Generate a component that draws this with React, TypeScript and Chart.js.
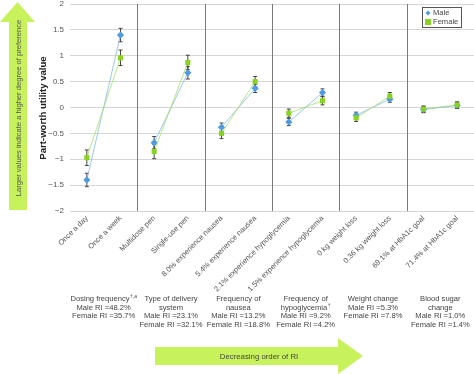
import React, { useEffect, useRef } from "react";
import { Chart, registerables } from "chart.js";

Chart.register(...registerables);

const categories = [
  "Once a day",
  "Once a week",
  "Multidose pen",
  "Single-use pen",
  "8.0% experience nausea",
  "5.4% experience nausea",
  "2.1% experience hypoglycemia",
  "1.5% experience hypoglycemia",
  "0 kg weight loss",
  "0.36 kg weight loss",
  "69.1% at HbA1c goal",
  "71.4% at HbA1c goal",
];

const maleValues = [-1.4, 1.4, -0.68, 0.67, -0.38, 0.37, -0.28, 0.29, -0.15, 0.16, -0.04, 0.04];
const femaleValues = [-0.97, 0.96, -0.85, 0.87, -0.5, 0.5, -0.11, 0.13, -0.2, 0.22, -0.03, 0.05];
const maleErrors = [0.13, 0.13, 0.12, 0.12, 0.08, 0.08, 0.07, 0.07, 0.06, 0.06, 0.06, 0.06];
const femaleErrors = [0.15, 0.15, 0.14, 0.14, 0.1, 0.1, 0.08, 0.08, 0.07, 0.07, 0.06, 0.06];

const groupTitles = [
  ["Dosing frequency^†,a"],
  ["Type of delivery", "system"],
  ["Frequency of", "nausea"],
  ["Frequency of", "hypoglycemia^†"],
  ["Weight change"],
  ["Blood sugar", "change"],
];
const maleRI = ["48.2%", "23.1%", "13.2%", "9.2%", "5.3%", "1.0%"];
const femaleRI = ["35.7%", "32.1%", "18.8%", "4.2%", "7.8%", "1.4%"];

const yTicks = [-2, -1.5, -1, -0.5, 0, 0.5, 1, 1.5, 2];

const FONT = '"Liberation Sans", Arial, sans-serif';
const MALE = "#4f9be0";
const FEMALE = "#86d41c";
const ARROW = "#c8f25c";

const overlayPlugin = {
  id: "overlay",
  beforeDatasetsDraw(chart: any) {
    const { ctx, chartArea, scales } = chart;
    const x = scales.x;
    const y = scales.y;
    ctx.save();
    ctx.strokeStyle = "#7a7a7a";
    ctx.lineWidth = 1;
    for (let g = 1; g < groupTitles.length; g++) {
      const px = Math.round((x.getPixelForValue(2 * g - 1) + x.getPixelForValue(2 * g)) / 2) + 0.5;
      ctx.beginPath();
      ctx.moveTo(px, chartArea.top);
      ctx.lineTo(px, chartArea.bottom);
      ctx.stroke();
    }
    ctx.strokeStyle = "#333";
    ctx.lineWidth = 0.9;
    const drawErr = (vals: number[], errs: number[]) => {
      vals.forEach((v, i) => {
        const px = x.getPixelForValue(i);
        const top = y.getPixelForValue(v + errs[i]);
        const bot = y.getPixelForValue(v - errs[i]);
        ctx.beginPath();
        ctx.moveTo(px, top);
        ctx.lineTo(px, bot);
        ctx.moveTo(px - 2, top);
        ctx.lineTo(px + 2, top);
        ctx.moveTo(px - 2, bot);
        ctx.lineTo(px + 2, bot);
        ctx.stroke();
      });
    };
    drawErr(maleValues, maleErrors);
    drawErr(femaleValues, femaleErrors);
    ctx.restore();
  },
  afterDraw(chart: any) {
    const { ctx, chartArea, scales } = chart;
    const x = scales.x;
    ctx.save();
    ctx.fillStyle = "#444";
    ctx.textBaseline = "middle";
    const fs = 7.6;
    const lh = 8.7;
    groupTitles.forEach((title, g) => {
      const cx = (x.getPixelForValue(2 * g) + x.getPixelForValue(2 * g + 1)) / 2;
      const lines = [...title, "Male RI =" + maleRI[g], "Female RI =" + femaleRI[g]];
      lines.forEach((line, li) => {
        const ly = 299 + li * lh;
        const [main, sup] = line.split("^");
        ctx.font = `${fs}px ${FONT}`;
        const wMain = ctx.measureText(main).width;
        let wSup = 0;
        if (sup) {
          ctx.font = `${fs * 0.65}px ${FONT}`;
          wSup = ctx.measureText(sup).width + 0.5;
        }
        const startX = cx - (wMain + wSup) / 2;
        ctx.textAlign = "left";
        ctx.font = `${fs}px ${FONT}`;
        ctx.fillText(main, startX, ly);
        if (sup) {
          ctx.font = `${fs * 0.65}px ${FONT}`;
          ctx.fillText(sup, startX + wMain + 0.5, ly - 2.5);
        }
      });
    });
    const lx = chartArea.right - 52;
    const ly = chartArea.top + 3;
    ctx.strokeStyle = "#555";
    ctx.lineWidth = 1;
    ctx.fillStyle = "#fff";
    ctx.fillRect(lx + 0.5, ly + 0.5, 39, 20);
    ctx.strokeRect(lx + 0.5, ly + 0.5, 39, 20);
    ctx.fillStyle = MALE;
    ctx.beginPath();
    const mx = lx + 6, my = ly + 6;
    ctx.moveTo(mx, my - 2.5);
    ctx.lineTo(mx + 2.5, my);
    ctx.lineTo(mx, my + 2.5);
    ctx.lineTo(mx - 2.5, my);
    ctx.closePath();
    ctx.fill();
    ctx.fillStyle = FEMALE;
    ctx.fillRect(mx - 3, ly + 15 - 3, 6, 6);
    ctx.fillStyle = "#444";
    ctx.font = `7.6px ${FONT}`;
    ctx.textAlign = "left";
    ctx.textBaseline = "middle";
    ctx.fillText("Male", lx + 11, my);
    ctx.fillText("Female", lx + 11, ly + 15);
    ctx.restore();
  },
};

export default function App() {
  const canvasRef = useRef<HTMLCanvasElement | null>(null);

  useEffect(() => {
    document.body.style.margin = "0";
    const canvas = canvasRef.current;
    if (!canvas) return;
    const segColor = (c: string) => (ctx: any) => (ctx.p0DataIndex % 2 === 1 ? "rgba(0,0,0,0)" : c);
    const chart = new Chart(canvas, {
      type: "line",
      data: {
        labels: categories,
        datasets: [
          {
            label: "Female",
            data: femaleValues,
            borderColor: "#9ee05a",
            borderWidth: 0.8,
            pointStyle: "rect",
            pointRadius: 3.6,
            pointBackgroundColor: FEMALE,
            pointBorderColor: FEMALE,
            pointBorderWidth: 0,
            segment: { borderColor: segColor("#a6e06a") },
          },
          {
            label: "Male",
            data: maleValues,
            borderColor: "#7ab6ea",
            borderWidth: 0.8,
            pointStyle: "rectRot",
            pointRadius: 3.6,
            pointBackgroundColor: MALE,
            pointBorderColor: MALE,
            pointBorderWidth: 0,
            segment: { borderColor: segColor("#80b8ea") },
          },
        ],
      },
      options: {
        responsive: false,
        animation: false,
        layout: { autoPadding: false, padding: { top: 4, right: 0, left: 0, bottom: 0 } },
        plugins: { legend: { display: false }, tooltip: { enabled: false } },
        scales: {
          x: {
            type: "category",
            offset: true,
            grid: { display: false, drawTicks: false },
            border: { display: false },
            ticks: {
              autoSkip: false,
              minRotation: 45,
              maxRotation: 45,
              padding: 3,
              color: "#555",
              font: { family: FONT, size: 7.5 },
            },
            afterFit: (s: any) => {
              s.height = 163;
              s.paddingLeft = 0;
              s.paddingRight = 0;
            },
          },
          y: {
            min: -2,
            max: 2,
            afterBuildTicks: (s: any) => {
              s.ticks = yTicks.map((v) => ({ value: v }));
            },
            grid: { color: "#d6d6d6", lineWidth: 1, drawTicks: false },
            border: { display: false },
            ticks: {
              padding: 6,
              color: "#555",
              font: { family: FONT, size: 8 },
              callback: (v: any) => (Number(v) < 0 ? "\u2212" + String(Math.abs(Number(v))) : String(v)),
            },
            afterFit: (s: any) => {
              s.width = 70;
              s.paddingTop = 0;
              s.paddingBottom = 0;
            },
          },
        },
      },
      plugins: [overlayPlugin],
    });
    return () => chart.destroy();
  }, []);

  return (
    <div style={{ position: "fixed", left: 0, top: 0, width: 474, height: 374, background: "#fff", overflow: "hidden", fontFamily: FONT }}>
      <canvas ref={canvasRef} width={474} height={374} style={{ position: "absolute", left: 0, top: 0 }} />
      <svg width={474} height={374} style={{ position: "absolute", left: 0, top: 0, pointerEvents: "none" }}>
        <polygon points="17.5,2 35,22 27,22 27,210 9,210 9,22 0,22" fill={ARROW} />
        <polygon points="155,347 338,347 338,338 363,356 338,374 338,365 155,365" fill={ARROW} />
      </svg>
      <div
        style={{
          position: "absolute",
          left: 18,
          top: 108,
          transform: "translate(-50%, -50%) rotate(-90deg)",
          whiteSpace: "nowrap",
          fontSize: 7.6,
          color: "#555",
        }}
      >
        Larger values indicate a higher degree of preference
      </div>
      <div
        style={{
          position: "absolute",
          left: 42,
          top: 108,
          transform: "translate(-50%, -50%) rotate(-90deg)",
          whiteSpace: "nowrap",
          fontSize: 9.6,
          fontWeight: "bold",
          color: "#222",
        }}
      >
        Part-worth utility value
      </div>
      <div
        style={{
          position: "absolute",
          left: 259,
          top: 356,
          transform: "translate(-50%, -50%)",
          whiteSpace: "nowrap",
          fontSize: 7.8,
          color: "#444",
        }}
      >
        Decreasing order of RI
      </div>
    </div>
  );
}
